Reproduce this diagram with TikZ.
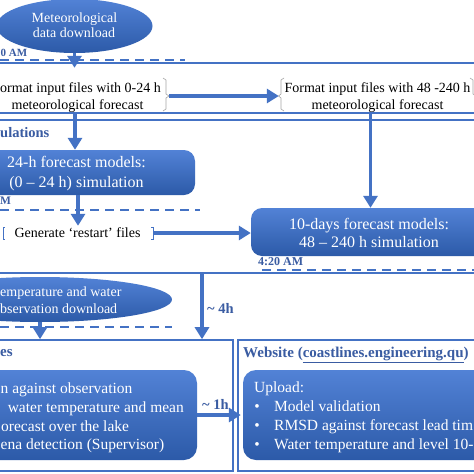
\documentclass[tikz,border=0pt]{standalone}
\usepackage{fontspec}
\setmainfont{Liberation Serif}
\usetikzlibrary{arrows.meta,shapes.geometric}
\definecolor{lineblue}{RGB}{68,114,196}
\definecolor{labelblue}{RGB}{58,92,162}
\definecolor{boxtop}{RGB}{82,130,214}
\definecolor{boxbot}{RGB}{44,90,168}
\newcommand\fsfmt{\fontsize{14}{17}\selectfont}
\newcommand\fsbox{\fontsize{16}{19}\selectfont}
\newcommand\fslist{\fontsize{15.5}{19}\selectfont}
\begin{document}
\begin{tikzpicture}[x=1pt,y=-1pt,
  frame/.style={draw=lineblue,line width=1.6pt,inner sep=0pt},
  flow/.style={draw=lineblue,line width=3.3pt,-{Triangle[width=14pt,length=12pt]}},
  dashline/.style={draw=lineblue,line width=2.2pt,dash pattern=on 9pt off 6pt},
  bluebox/.style={rounded corners=11pt,top color=boxtop,bottom color=boxbot,draw=none,inner sep=0pt},
  blueell/.style={ellipse,top color=boxtop,bottom color=boxbot,draw=none,inner sep=0pt},
  hit/.style={inner sep=0pt,draw=none},
  wtxt/.style={text=white,inner sep=0pt,anchor=base},
  btxt/.style={text=black,inner sep=0pt,anchor=base},
  lbl/.style={text=labelblue,font=\bfseries,inner sep=0pt,anchor=base west},
  bracestyle/.style={draw=gray!70,line width=0.6pt},
  bracketstyle/.style={draw=lineblue,line width=0.8pt}
]
\useasboundingbox (0,0) rectangle (474,474);
\fill[white] (0,0) rectangle (474,474);
\clip (0,0) rectangle (474,474);

% section frames
\node[frame,minimum width=485pt,minimum height=50pt] (frameA) at (237.5,88) {};
\node[frame,minimum width=485pt,minimum height=153pt] (frameB) at (237.5,196.5) {};
\node[frame,minimum width=238pt,minimum height=131pt] (frameC) at (114,405.5) {};
\node[frame,minimum width=244pt,minimum height=131pt] (frameD) at (360,405.5) {};

% dashed time lines
\draw[dashline] (0,60) -- (185,60);
\draw[dashline] (0,210) -- (200,210);
\draw[dashline] (0,327) -- (172,327);
\draw[dashline] (262,270) -- (474,270);

% time / section labels
\node[lbl,font=\bfseries\fontsize{11}{13}\selectfont] (t1) at (0.5,56) {0 AM};
\node[lbl,font=\bfseries\fontsize{11.5}{13}\selectfont] (t2) at (0,204) {M};
\node[lbl,font=\bfseries\fontsize{12}{14}\selectfont] (t3) at (258,265) {4:20 AM};
\node[lbl,font=\bfseries\fontsize{14.5}{17}\selectfont] (simlbl) at (0,137) {ulations};
\node[lbl,font=\bfseries\fontsize{15}{17}\selectfont] (anallbl) at (0,356) {es};
\node[lbl,font=\bfseries\fontsize{15}{17}\selectfont] (weblbl) at (243,357) {Website (\underline{coastlines.engineering.qu})};
\node[lbl,font=\bfseries\fontsize{14.5}{17}\selectfont] (h4) at (207,313) {\textasciitilde{} 4h};
\node[lbl,font=\bfseries\fontsize{14.5}{17}\selectfont] (h1) at (202,409) {\textasciitilde{} 1h};

% ellipses
\node[blueell,minimum width=156pt,minimum height=54pt] (e1) at (74.5,26) {};
\node[wtxt,font=\fsfmt] (e1a) at (74.5,22) {Meteorological};
\node[wtxt,font=\fsfmt] (e1b) at (74,37.5) {data download};

\node[blueell,minimum width=264pt,minimum height=45pt] (e2) at (40,299.5) {};
\node[wtxt,font=\fsfmt,anchor=base west] (e2a) at (0,296) {emperature and water};
\node[wtxt,font=\fsfmt,anchor=base west] (e2b) at (0,313) {bservation download};

% format input files
\node[hit,minimum width=188pt,minimum height=45pt] (fmtA) at (75,90.5) {};
\node[btxt,font=\fsfmt,anchor=base east] (fmtA1) at (161,92.5) {ormat input files with 0-24 h};
\node[btxt,font=\fsfmt] (fmtA2) at (77.5,109.5) {meteorological forecast};
\draw[bracestyle] (163,78) -- (166,80) -- (166,94) -- (169,96) -- (166,98) -- (166,109) -- (163,111);

\node[hit,minimum width=197pt,minimum height=45pt] (fmtB) at (377.5,90.5) {};
\node[btxt,font=\fsfmt] (fmtB1) at (377.5,92.5) {Format input files with 48 -240 h};
\node[btxt,font=\fsfmt] (fmtB2) at (377.5,109.5) {meteorological forecast};
\draw[bracestyle] (284,78) -- (281,80) -- (281,94) -- (278.5,96) -- (281,98) -- (281,109) -- (284,111);
\draw[bracestyle] (470,78) -- (473,80) -- (473,94) -- (476,96);

% simulation boxes
\node[bluebox,minimum width=210pt,minimum height=45pt] (sim24) at (90,172.5) {};
\node[wtxt,font=\fsbox] (sim24a) at (76.5,167.5) {24-h forecast models:};
\node[wtxt,font=\fsbox] (sim24b) at (76.5,187) {(0 – 24 h) simulation};

\node[bluebox,minimum width=239pt,minimum height=48pt] (sim10) at (370.5,232) {};
\node[wtxt,font=\fsbox] (sim10a) at (369,229) {10-days forecast models:};
\node[wtxt,font=\fsbox] (sim10b) at (369,247.5) {48 – 240 h simulation};

\node[hit,minimum width=152pt,minimum height=14pt] (restart) at (78,233) {};
\node[btxt,font=\fsfmt] (restarttxt) at (77.5,237.5) {Generate ‘restart’ files};
\draw[bracketstyle] (5,227) -- (3,227) -- (3,239) -- (5,239);
\draw[bracketstyle] (151,227) -- (153,227) -- (153,239) -- (151,239);

% analysis / website boxes
\node[bluebox,minimum width=212pt,minimum height=90pt,rounded corners=13pt] (anal) at (91,415) {};
\node[wtxt,font=\fslist,anchor=base west] (an1) at (0.5,393) {n against observation};
\node[wtxt,font=\fslist,anchor=base east] (an2) at (184,412) {water temperature and mean};
\node[wtxt,font=\fslist,anchor=base west] (an3) at (1,431) {orecast over the lake};
\node[wtxt,font=\fslist,anchor=base west] (an4) at (0.5,449.5) {ena detection (Supervisor)};

\node[bluebox,minimum width=247pt,minimum height=90pt,rounded corners=13pt] (web) at (366.5,415) {};
\node[wtxt,font=\fslist,anchor=base west] (w0) at (254,392) {Upload:};
\node[wtxt,font=\fslist] (wb1) at (257,411.5) {\textbullet};
\node[wtxt,font=\fslist] (wb2) at (257,430.5) {\textbullet};
\node[wtxt,font=\fslist] (wb3) at (257,449) {\textbullet};
\node[wtxt,font=\fslist,anchor=base west] (w1) at (274,411.5) {Model validation};
\node[wtxt,font=\fslist,anchor=base west] (w2) at (274,430.5) {RMSD against forecast lead tim};
\node[wtxt,font=\fslist,anchor=base west] (w3) at (274,449) {Water temperature and level 10-};

% connectors
\draw[flow] (e1.south) -- (e1.south |- fmtA.north);
\draw[flow] ([yshift=-5.5pt]fmtA.east) -- ([yshift=-5.5pt]fmtB.west);
\draw[flow] (fmtA.south) -- (fmtA.south |- sim24.north);
\draw[flow] (fmtB.south -| sim10.north) -- (sim10.north);
\draw[flow] (sim24.south -| restart.north) -- (restart.north);
\draw[flow] (restart.east) -- (restart.east -| sim10.west);
\coordinate (c4h) at (202,273);
\draw[flow] (c4h) -- (c4h |- frameC.north);
\draw[flow] (e2.south) -- (e2.south |- frameC.north);
\draw[flow] (anal.east) -- ([xshift=-2pt]web.west);
\end{tikzpicture}
\end{document}
